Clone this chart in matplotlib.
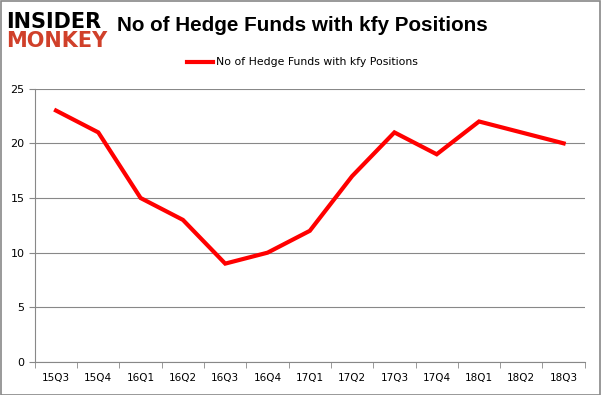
import numpy as np
import matplotlib.pyplot as plt
from matplotlib.patches import Rectangle

quarters = ['15Q3', '15Q4', '16Q1', '16Q2', '16Q3', '16Q4', '17Q1',
            '17Q2', '17Q3', '17Q4', '18Q1', '18Q2', '18Q3']
funds = [23, 21, 15, 13, 9, 10, 12, 17, 21, 19, 22, 21, 20]

fig = plt.figure(figsize=(6.01, 3.95), dpi=100)
ax = fig.add_axes([0.058, 0.0835, 0.915, 0.692])

x = np.arange(len(quarters))
ax.plot(x, funds, color='#ff0000', lw=3, solid_joinstyle='miter')

ax.set_xlim(-0.5, len(quarters) - 0.5)
ax.set_ylim(0, 25)
ax.set_yticks(range(0, 26, 5))
ax.set_xticks(x)
ax.set_xticklabels(quarters, fontsize=7.5)
ax.set_xticks(np.arange(-0.5, len(quarters), 1), minor=True)
ax.tick_params(axis='x', which='major', length=0, pad=8)
ax.tick_params(axis='x', which='minor', length=4, color='#888888')
ax.tick_params(axis='y', length=4, color='#888888', labelsize=8)
ax.grid(axis='y', color='#888888', lw=0.8)
ax.set_axisbelow(True)
for s in ['top', 'right']:
    ax.spines[s].set_visible(False)
for s in ['left', 'bottom']:
    ax.spines[s].set_color('#888888')

# title and legend
fig.text(0.195, 0.935, 'No of Hedge Funds with kfy Positions', fontsize=14.9,
         fontweight='bold', family='Liberation Sans', va='center', ha='left')
fig.lines.append(plt.Line2D([0.311, 0.355], [0.843, 0.843], color='#ff0000',
                            lw=3, transform=fig.transFigure))
fig.text(0.359, 0.843, 'No of Hedge Funds with kfy Positions', fontsize=7.8,
         va='center', ha='left')

# logo
fig.text(0.010, 0.945, 'INSIDER', fontsize=15, fontweight='bold',
         color='black', va='center', ha='left')
fig.text(0.010, 0.895, 'MONKEY', fontsize=15, fontweight='bold',
         color='#d0402a', va='center', ha='left')

# outer frame
fig.patches.append(Rectangle((0.001, 0.001), 0.997, 0.997, fill=False,
                             ec='#888888', lw=1.2, transform=fig.transFigure))

fig.savefig('out.png', dpi=100)
